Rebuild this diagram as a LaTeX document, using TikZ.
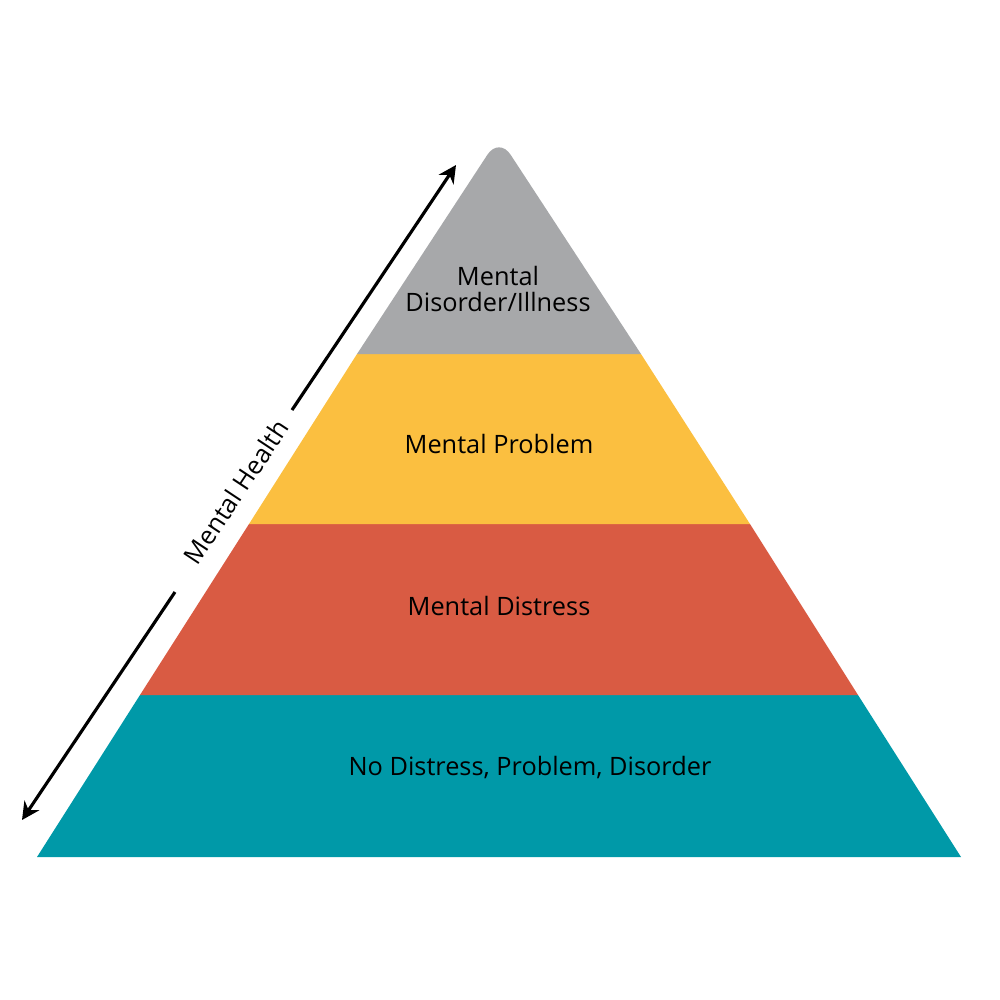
\documentclass[tikz,border=0pt]{standalone}
\usepackage{fontspec}
\setmainfont{Open Sans}
\usetikzlibrary{arrows.meta}
\definecolor{cgray}{HTML}{A7A8AA}
\definecolor{cyel}{HTML}{FBBF40}
\definecolor{cred}{HTML}{D95B43}
\definecolor{cteal}{HTML}{0099A8}
\begin{document}
\begin{tikzpicture}[x=0.01cm,y=-0.01cm,
  lbl/.style={font=\fontsize{7.2}{7.3}\selectfont, align=center, text=black},
  arr/.style={line width=0.9pt,-{Stealth[length=5pt,width=5pt]}}]
\useasboundingbox (0,0) rectangle (1000,1000);
\coordinate (apex) at (499,137);
\fill[cteal] (37,857) -- (140,695) -- (858,695) -- (961,857) -- cycle;
\fill[cred] (140,695) -- (249,524) -- (750,524) -- (858,695) -- cycle;
\fill[cyel] (249,524) -- (357,354) -- (641,354) -- (750,524) -- cycle;
\fill[cgray] (357,354) [rounded corners=6pt] -- (apex) [sharp corners] -- (641,354) -- cycle;
\node[lbl] (l1) at (498,289) {Mental\\Disorder/Illness};
\node[lbl] (l2) at (499,444) {Mental Problem};
\node[lbl] (l3) at (499,606) {Mental Distress};
\node[lbl] (l4) at (530,768) {No Distress, Problem, Disorder};
\coordinate (a0) at (22,820);
\coordinate (a1) at (175,592);
\coordinate (a2) at (292,410);
\coordinate (a3) at (456,165);
\draw[arr] (a1) -- (a0);
\draw[arr] (a2) -- (a3);
\node[lbl, rotate=56.5] (mh) at (236,492) {Mental Health};
\end{tikzpicture}
\end{document}
